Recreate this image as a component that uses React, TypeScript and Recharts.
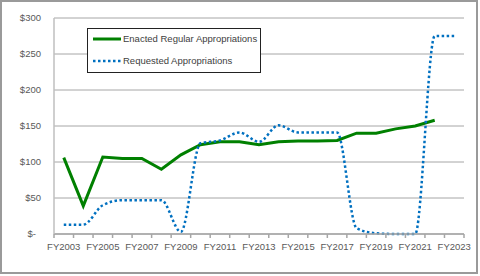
import React from 'react';
import { LineChart, Line, XAxis, YAxis, CartesianGrid } from 'recharts';

const categories = ['FY2003','FY2004','FY2005','FY2006','FY2007','FY2008','FY2009','FY2010','FY2011','FY2012','FY2013','FY2014','FY2015','FY2016','FY2017','FY2018','FY2019','FY2020','FY2021','FY2022','FY2023'];
const enacted: (number | null)[] = [106,39,107,105,105,90,110,124,128,128,124,128,129,129,130,140,140,146,150,158,null];
const requested: (number | null)[] = [13,13,40,47,47,47,3,126,130,141,128,151,141,141,141,8,1,0,0,275,275];
const yTicks = [0,50,100,150,200,250,300];
const seriesNames = ['Enacted Regular Appropriations', 'Requested Appropriations'];
const xBoundaries = Array.from({ length: categories.length + 1 }, (_, i) => i);

const data = categories.map((c, i) => ({ x: i + 0.5, label: c, enacted: enacted[i], requested: requested[i] }));

const FONT = '"Liberation Sans", Arial, sans-serif';
const TEXT = '#595959';
const W = 480, H = 276;
const M = { top: 18, right: 16, left: 0, bottom: 10 };
const YW = 54;
const HALF_STEP = (W - M.right - YW) / categories.length / 2;

const XTick = (props: any) => {
  const v = props.payload.value;
  if (v % 2 !== 0 || v >= categories.length) return null;
  return (
    <text x={props.x + HALF_STEP} y={props.y} dy="0.71em" textAnchor="middle" fontSize={9.5} fontFamily={FONT} fill={TEXT}>
      {categories[v]}
    </text>
  );
};

const YTick = (props: any) => {
  const v = props.payload.value;
  const label = v === 0 ? '$-' : `$${v}`;
  return (
    <text x={v === 0 ? props.x - 5 : props.x} y={props.y} dy="0.355em" textAnchor="end" fontSize={9.5} fontFamily={FONT} fill={TEXT}>
      {label}
    </text>
  );
};

const LegendBox = () => (
  <div style={{ position: 'absolute', left: 87, top: 28, border: '1.5px solid #222', background: '#fff', width: 174, height: 45, boxSizing: 'border-box' }}>
    <svg width={171} height={42} style={{ position: 'absolute', left: 0, top: 0 }}>
      <line x1={5} x2={33} y1={10} y2={10} stroke="#008000" strokeWidth={3} />
      <text x={35} y={10} dy="0.355em" fontSize={9.5} fontFamily={FONT} fill="#404040">{seriesNames[0]}</text>
      <line x1={5} x2={33} y1={32} y2={32} stroke="#0070C0" strokeWidth={2.5} strokeDasharray="2.5 2.5" />
      <text x={35} y={32} dy="0.355em" fontSize={9.5} fontFamily={FONT} fill="#404040">{seriesNames[1]}</text>
    </svg>
  </div>
);

export default function App() {
  return (
    <div style={{ position: 'absolute', left: 0, top: 0, width: W, height: H, background: '#fff' }}>
      <div style={{ position: 'absolute', left: 0, top: 0, width: 478, height: 274, border: '2px solid #9a9a9a', boxSizing: 'border-box' }} />
      <div style={{ position: 'absolute', left: 0, top: 0 }}>
        <LineChart width={W} height={H} data={data} margin={M}>
          <CartesianGrid vertical={false} stroke="#a6a6a6" strokeWidth={1} />
          <XAxis
            dataKey="x"
            type="number"
            domain={[0, categories.length]}
            ticks={xBoundaries}
            interval={0}
            height={32}
            tickSize={4}
            tickMargin={5}
            tick={<XTick />}
            axisLine={{ stroke: '#a6a6a6', strokeWidth: 1.5 }}
            tickLine={{ stroke: '#a6a6a6', strokeWidth: 1.5 }}
          />
          <YAxis
            domain={[0, 300]}
            ticks={yTicks}
            interval={0}
            width={YW}
            tickSize={0}
            tickMargin={13}
            tickLine={false}
            tick={<YTick />}
            axisLine={{ stroke: '#bfbfbf', strokeWidth: 1.5 }}
          />
          <Line dataKey="enacted" name={seriesNames[0]} type="linear" stroke="#008000" strokeWidth={3} dot={false} isAnimationActive={false} />
          <Line dataKey="requested" name={seriesNames[1]} type="monotone" stroke="#0070C0" strokeWidth={2.5} strokeDasharray="2.5 2.5" dot={false} isAnimationActive={false} />
        </LineChart>
      </div>
      <LegendBox />
    </div>
  );
}
